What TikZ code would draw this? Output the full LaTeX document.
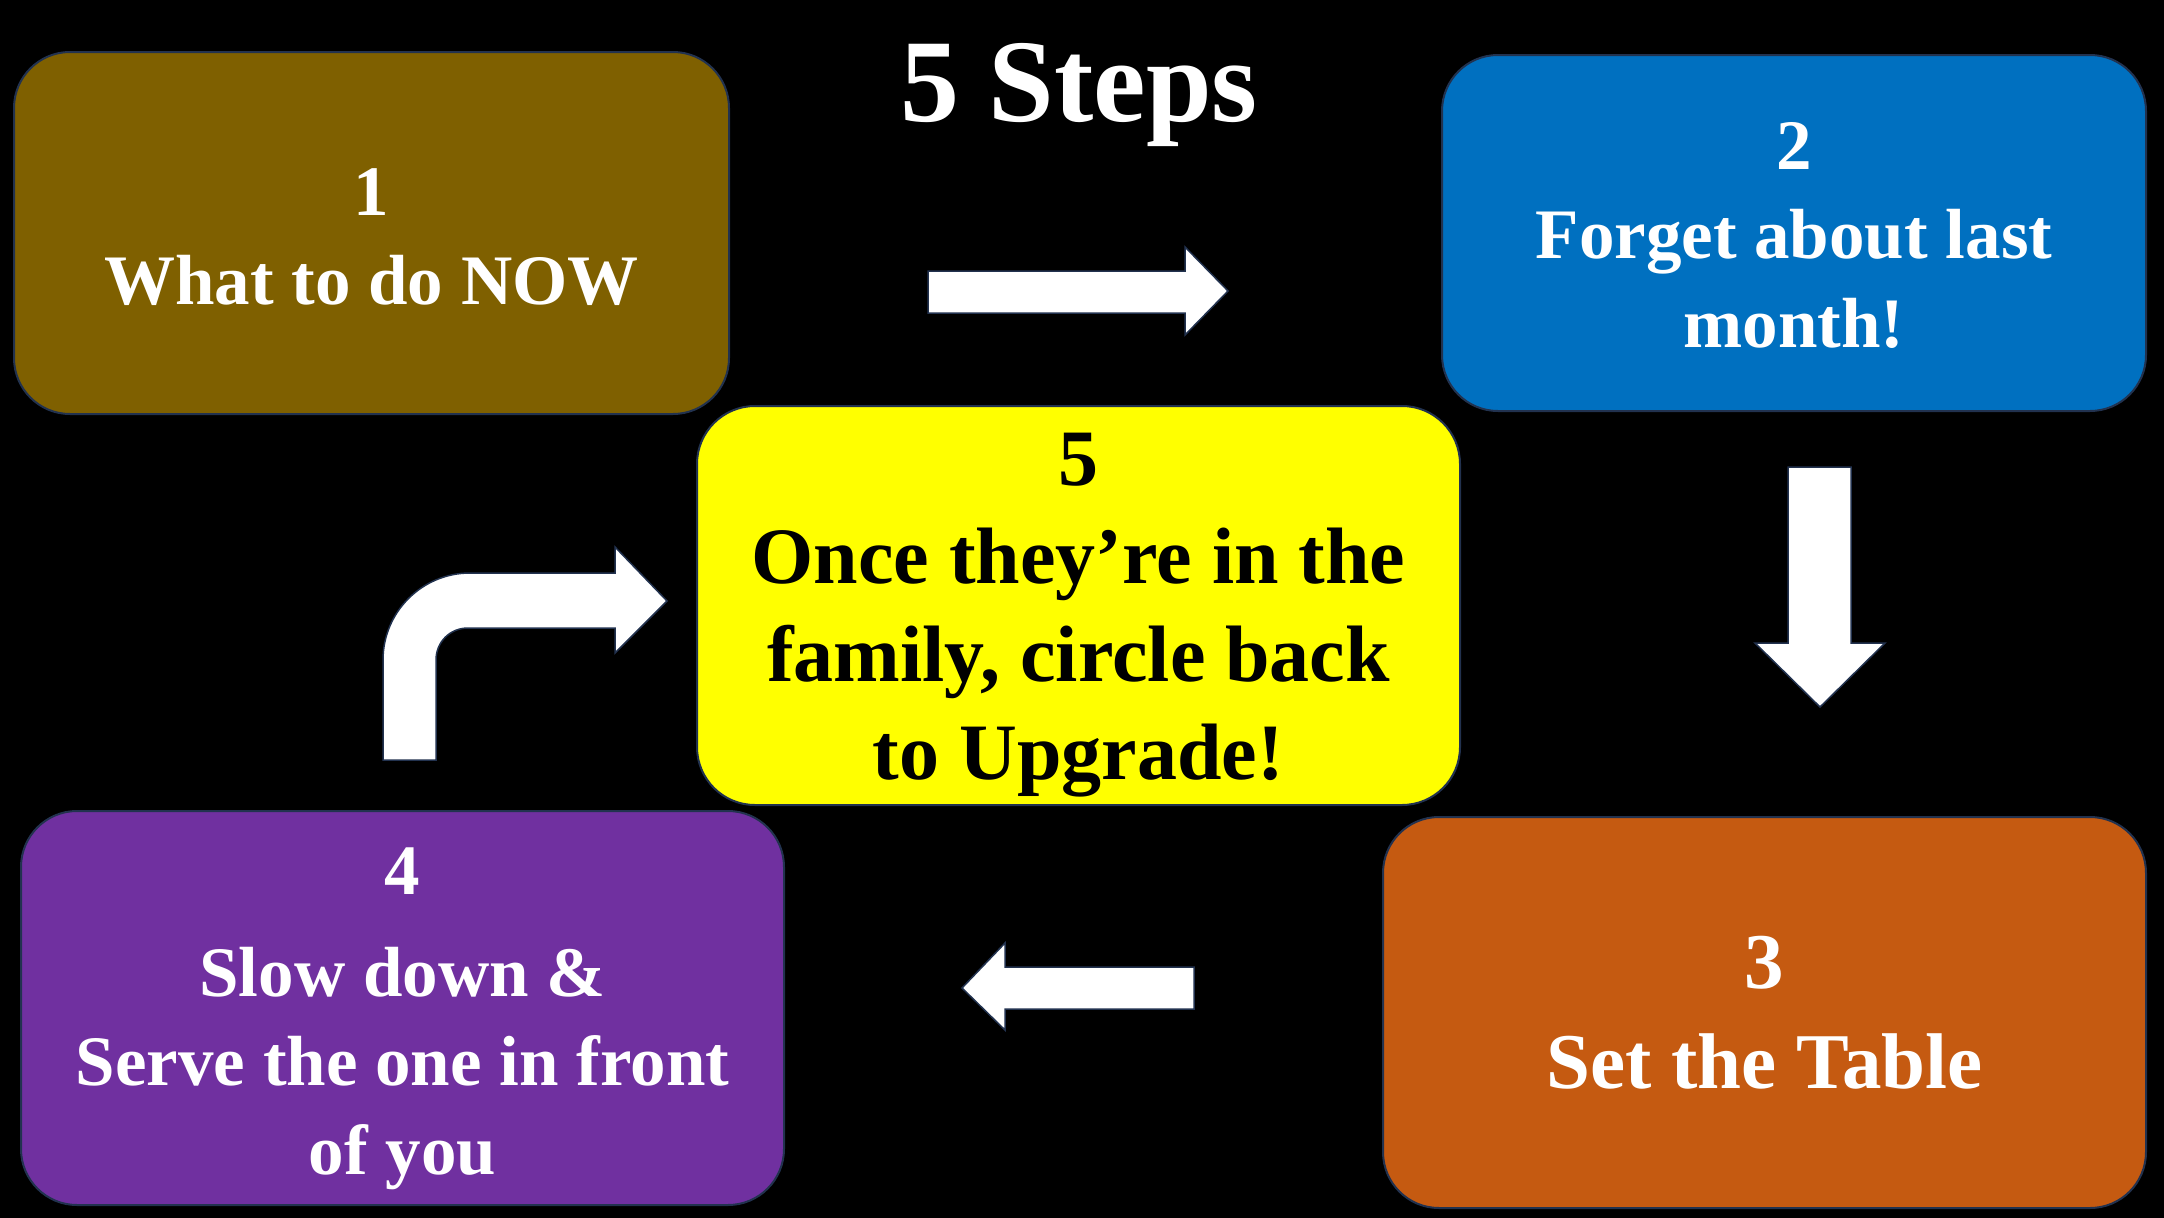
\documentclass[tikz,border=0pt]{standalone}
\usepackage{fontspec}
\setmainfont{Liberation Serif}
\begin{document}
\begin{tikzpicture}[x=1pt,y=-1pt,
  box/.style={draw=edgeblue,line width=2pt,rounded corners=56pt,inner sep=0pt},
  boxtext/.style={inner sep=0pt,align=center,text=white,font=\bfseries\fontsize{71}{89}\selectfont},
  blockarrow/.style={fill=white,draw=edgeblue,line width=1.5pt,line join=miter}]
\definecolor{edgeblue}{HTML}{22324F}
\definecolor{cbrown}{HTML}{7F6000}
\definecolor{cblue}{HTML}{0070C0}
\definecolor{cyellow}{HTML}{FFFF00}
\definecolor{cpurple}{HTML}{7030A0}
\definecolor{corange}{HTML}{C55A11}
\fill[black] (0,0) rectangle (2164,1218);
\useasboundingbox (0,0) rectangle (2164,1218);
\node[anchor=base,text=white,font=\bfseries\fontsize{118}{130}\selectfont] (title) at (1079,121) {5 Steps};
\node[box,fill=cbrown,minimum width=715pt,minimum height=362pt] (b1) at (371.5,233) {};
\node[boxtext] (t1) at ([yshift=-4pt]b1.center) {1\\What to do NOW};
\node[box,fill=cblue,minimum width=704pt,minimum height=356pt] (b2) at (1794,233) {};
\node[boxtext] (t2) at ([yshift=-2pt]b2.center) {2\\Forget about last\\month!};
\node[box,fill=cyellow,minimum width=763pt,minimum height=399pt,rounded corners=58pt] (b5) at (1078.5,605.5) {};
\node[boxtext,text=black,font=\bfseries\fontsize{80}{98}\selectfont] (t5) at ([yshift=-10pt]b5.center) {5\\Once they’re in the\\family, circle back\\to Upgrade!};
\node[box,fill=cpurple,minimum width=763pt,minimum height=394pt] (b4) at (402.5,1008) {};
\node[boxtext] (t4) at ([yshift=-11pt]b4.center) {4\\[13pt]Slow down \&\\Serve the one in front\\of you};
\node[box,fill=corange,minimum width=763pt,minimum height=391pt] (b3) at (1764.5,1012.5) {};
\node[boxtext,font=\bfseries\fontsize{79}{100}\selectfont] (t3) at (b3.center) {3\\Set the Table};
% block arrows
\draw[blockarrow] (928,271) -- (1185,271) -- (1185,247) -- (1228,291) -- (1185,335) -- (1185,313) -- (928,313) -- cycle;
\draw[blockarrow] (1788,467) -- (1851,467) -- (1851,643) -- (1885,643) -- (1820,707) -- (1755,643) -- (1788,643) -- cycle;
\draw[blockarrow] (962,988) -- (1005,943) -- (1005,967) -- (1194,967) -- (1194,1009) -- (1005,1009) -- (1005,1030) -- cycle;
\draw[blockarrow] (383,760) -- (383,660) .. controls (383,612) and (422,573) .. (470,573) -- (615,573) -- (615,547) -- (667,601) -- (615,653) -- (615,628) -- (468,628) .. controls (450,628) and (436,642) .. (436,660) -- (436,760) -- cycle;
\end{tikzpicture}
\end{document}
